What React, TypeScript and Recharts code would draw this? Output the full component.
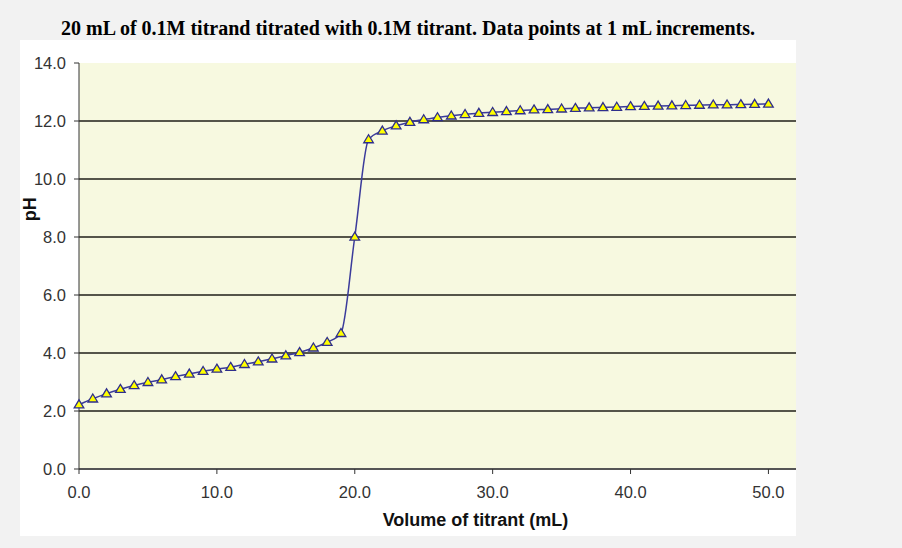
import {
 LineChart,
 Line,
 XAxis,
 YAxis,
 ReferenceArea,
 ReferenceLine,
 Label
} from "recharts";


// titrant volume (mL), one point per mL
const volume=[
 0,1,2,3,4,5,6,7,8,9,
 10,11,12,13,14,15,16,17,18,19,
 20,21,22,23,24,25,26,27,28,29,
 30,31,32,33,34,35,36,37,38,39,
 40,41,42,43,44,45,46,47,48,49,
 50
];

// pH
const ph=[
 2.22,2.42,2.60,2.75,2.88,2.99,3.08,3.19,3.28,3.37,
 3.45,3.51,3.61,3.70,3.80,3.91,4.02,4.18,4.37,4.68,
 8.00,11.36,11.66,11.84,11.96,12.05,12.12,12.18,12.23,12.27,
 12.30,12.33,12.36,12.39,12.40,12.42,12.44,12.46,12.47,12.48,
 12.50,12.51,12.52,12.53,12.54,12.55,12.56,12.56,12.57,12.58,
 12.59
];

const xTicks=[0,10,20,30,40,50];
const yTicks=[0,2,4,6,8,10,12,14];
const gridValues=[2,4,6,8,10,12];

const data=volume.map((v,i)=>({v,ph:ph[i]}));

const tickStyle={
 fontFamily:"Arial, 'Liberation Sans', sans-serif",
 fontSize:16.5,
 fill:"#333"
};


function Triangle(props:any){

 const {cx,cy}=props;

 if(cx==null||cy==null) return null;

 return(
  <path
   d={`M${cx},${cy-4.8}L${cx+4.8},${cy+3.2}L${cx-4.8},${cy+3.2}Z`}
   fill="#ffff00"
   stroke="#2e2e8c"
   strokeWidth={1.3}
  />
 );

}


export default function App(){

return(

<div style={{
 position:"absolute",
 left:0,
 top:0,
 width:902,
 height:548,
 background:"#f2f2f2"
}}>


<div style={{
 position:"absolute",
 left:0,
 top:17,
 width:816,
 textAlign:"center",
 fontFamily:"'Liberation Serif', 'Times New Roman', serif",
 fontWeight:"bold",
 fontSize:20,
 lineHeight:"22px",
 color:"#000"
}}>
20 mL of 0.1M titrand titrated with 0.1M titrant. Data points at 1 mL increments.
</div>


<div style={{
 position:"absolute",
 left:20,
 top:40,
 width:776,
 height:496,
 background:"#fff"
}}>


<LineChart
 width={776}
 height={496}
 data={data}
 margin={{top:23,right:0,bottom:0,left:0}}
>


<ReferenceArea
 x1={0}
 x2={52}
 y1={0}
 y2={14}
 fill="#f7f9e0"
 fillOpacity={1}
 stroke="none"
/>


{
gridValues.map(g=>(
 <ReferenceLine
  key={g}
  y={g}
  stroke="#55554a"
  strokeWidth={2}
 />
))
}


<XAxis
 dataKey="v"
 type="number"
 domain={[0,52]}
 ticks={xTicks}
 tickFormatter={(t:number)=>t.toFixed(1)}
 tick={tickStyle}
 tickSize={5}
 tickMargin={12}
 height={67}
 axisLine={{stroke:"#555",strokeWidth:2}}
 tickLine={{stroke:"#333"}}
>
 <Label
  content={(p:any)=>{
   const vb=p.viewBox||{};
   return(
    <text
     x={vb.x+vb.width*0.553}
     y={vb.y+57}
     textAnchor="middle"
     fontFamily="Arial, 'Liberation Sans', sans-serif"
     fontWeight="bold"
     fontSize={18}
     fill="#111"
    >
     Volume of titrant (mL)
    </text>
   );
  }}
 />
</XAxis>


<YAxis
 type="number"
 domain={[0,14]}
 ticks={yTicks}
 tickFormatter={(t:number)=>t.toFixed(1)}
 tick={tickStyle}
 tickSize={5}
 tickMargin={8}
 width={59}
 axisLine={{stroke:"#333"}}
 tickLine={{stroke:"#333"}}
>
 <Label
  content={(p:any)=>{
   const vb=p.viewBox||{};
   const x=vb.x+16;
   const y=vb.y+vb.height*0.36;
   return(
    <text
     x={x}
     y={y}
     transform={`rotate(-90 ${x} ${y})`}
     textAnchor="middle"
     fontFamily="Arial, 'Liberation Sans', sans-serif"
     fontWeight="bold"
     fontSize={18}
     fill="#111"
    >
     pH
    </text>
   );
  }}
 />
</YAxis>


<Line
 dataKey="ph"
 type="monotone"
 stroke="#3b3b9b"
 strokeWidth={1.5}
 dot={<Triangle/>}
 activeDot={false}
 isAnimationActive={false}
/>


</LineChart>


</div>


</div>

);

}
